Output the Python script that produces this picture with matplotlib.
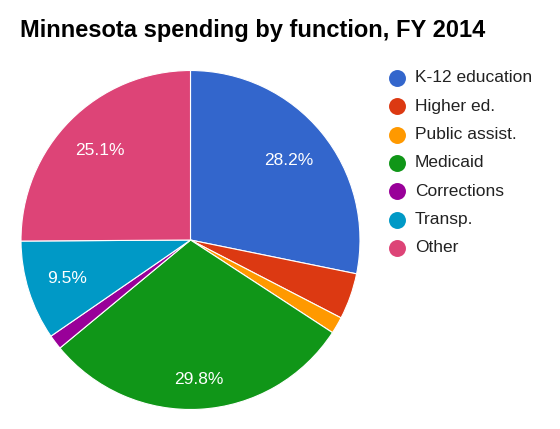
import matplotlib
matplotlib.use("Agg")
import matplotlib.pyplot as plt
import numpy as np

plt.rcParams['font.family'] = ['Liberation Sans', 'DejaVu Sans']

title = "Minnesota spending by function, FY 2014"
categories = ["K-12 education", "Higher ed.", "Public assist.", "Medicaid",
              "Corrections", "Transp.", "Other"]
shares = [28.2, 4.4, 1.6, 29.8, 1.4, 9.5, 25.1]
colors = ["#3366cc", "#dc3912", "#ff9900", "#109618", "#990099", "#0099c6", "#dd4477"]
label_min = 5.0  # slices below this share get no label

W, H = 560, 429
fig = plt.figure(figsize=(W / 100, H / 100), dpi=100)
fig.patch.set_facecolor("white")

cx, cy_top, rad = 190.5, 240.0, 169.5
cy = H - cy_top
ax = fig.add_axes([(cx - rad) / W, (cy - rad) / H, 2 * rad / W, 2 * rad / H])
wedges, _ = ax.pie(shares, colors=colors, startangle=90, counterclock=False,
                   radius=1.0, wedgeprops=dict(edgecolor="white", linewidth=0.8))
ax.set_xlim(-1, 1)
ax.set_ylim(-1, 1)
ax.set_aspect("equal")
ax.axis("off")

# percentage labels: place so the outer corner of the text box sits at a fixed radius
fig.canvas.draw()
renderer = fig.canvas.get_renderer()
total = sum(shares)
R_px = 0.885 * rad
lab_fs = 12.5
for w, v in zip(wedges, shares):
    if v < label_min:
        continue
    pct = 100 * v / total
    ang = np.deg2rad((w.theta1 + w.theta2) / 2)
    ux, uy = np.cos(ang), np.sin(ang)
    t = ax.text(0, 0, f"{pct:.1f}%", color="white", fontsize=lab_fs,
                ha="center", va="center")
    bb = t.get_window_extent(renderer)
    hw, hh = bb.width / 2, lab_fs * 100 / 72 * 0.75 / 2
    a = np.array([np.sign(ux) * hw, np.sign(uy) * hh])
    ua = ux * a[0] + uy * a[1]
    dist = -ua + np.sqrt(ua ** 2 - a @ a + R_px ** 2)
    t.set_position((ux * dist / rad, uy * dist / rad))

fig.text(20 / W, 1 - 37 / H, title, fontsize=17, fontweight="bold",
         color="#000000", ha="left", va="baseline")

# legend
lx, ly0, dy = 397, 78, 28.3
for i, (name, c) in enumerate(zip(categories, colors)):
    y = 1 - (ly0 + i * dy) / H
    fig.lines.append(plt.Line2D([lx / W], [y], transform=fig.transFigure,
                                marker="o", markersize=12.2, color=c,
                                markeredgewidth=0, linestyle="none"))
    fig.text(415 / W, y, name, fontsize=12.5, color="#222222",
             ha="left", va="center")

fig.savefig("out.png", dpi=100, facecolor="white")
